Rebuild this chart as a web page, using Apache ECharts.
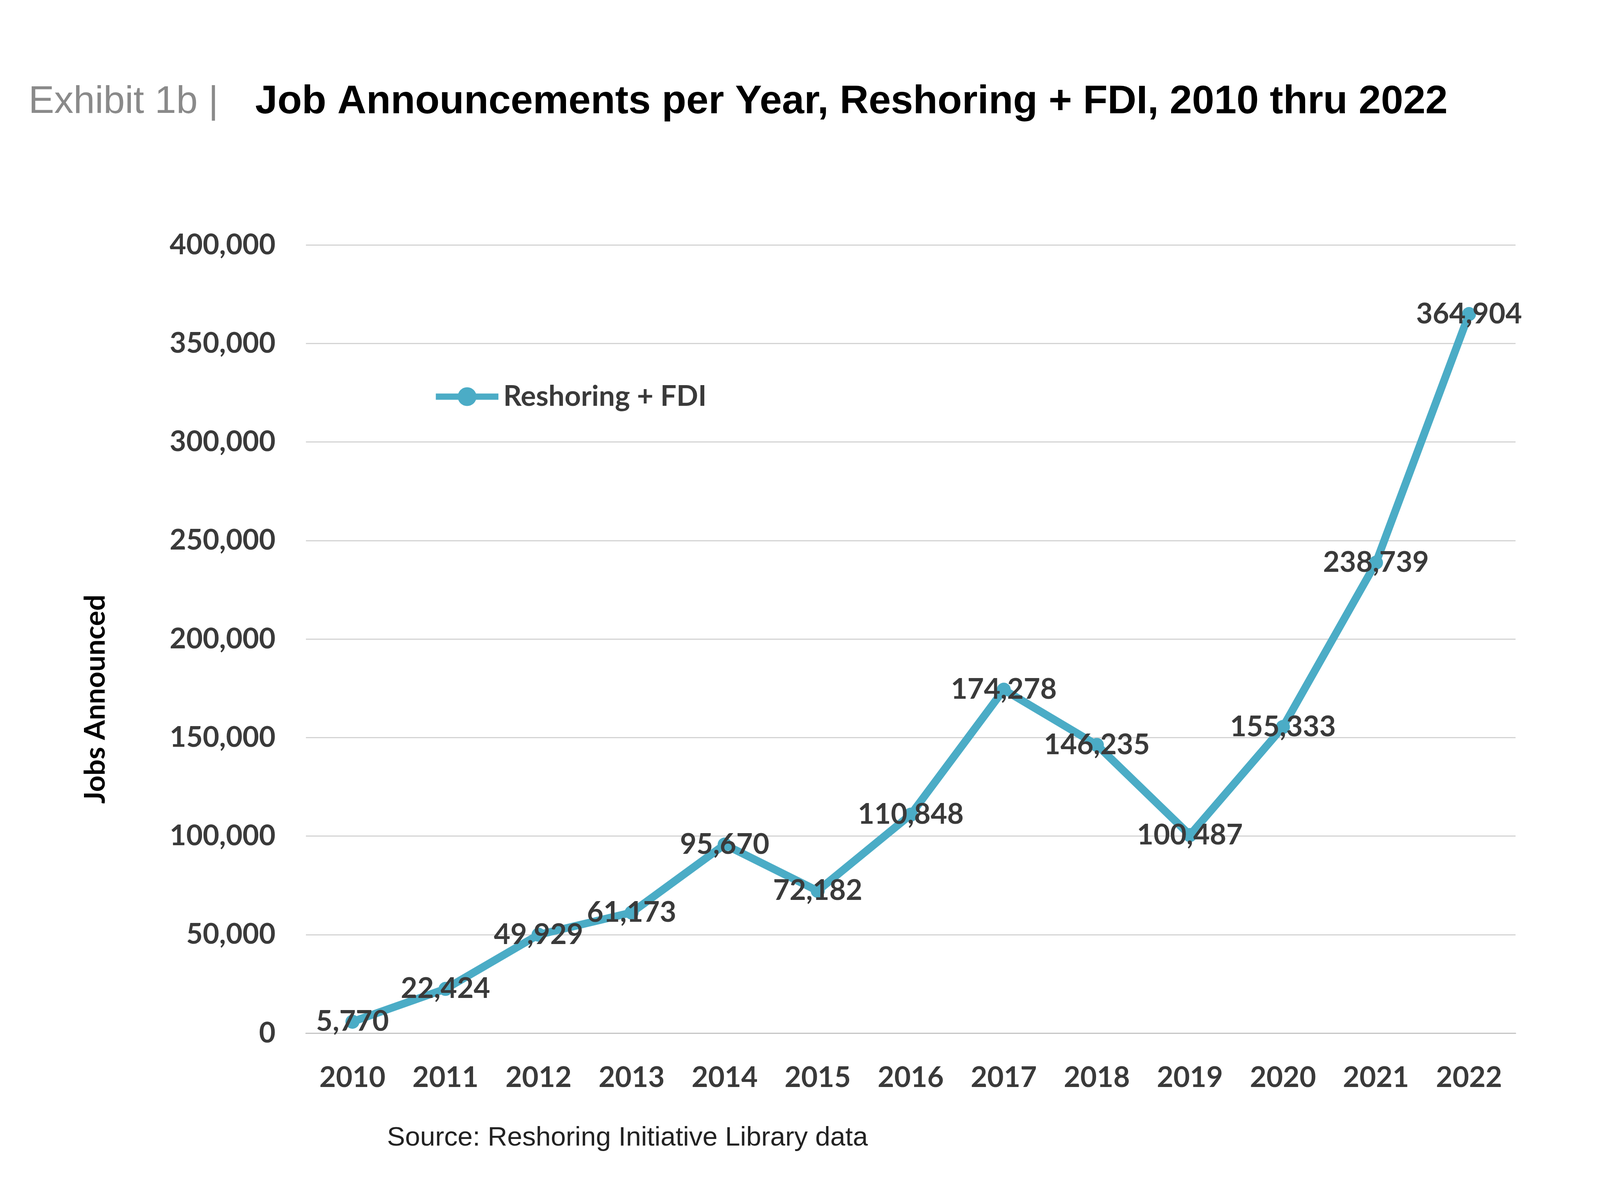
<!DOCTYPE html>
<html>
<head>
<meta charset="utf-8">
<script src="https://cdn.jsdelivr.net/npm/echarts@6/dist/echarts.min.js"></script>
<style>html,body{margin:0;padding:0;background:#fff;overflow:hidden}#chart{width:100vw;height:100vh}</style>
</head>
<body>
<div id="chart"></div>
<script>
const years = ['2010','2011','2012','2013','2014','2015','2016','2017','2018','2019','2020','2021','2022'];
const jobs = [5770, 22424, 49929, 61173, 95670, 72182, 110848, 174278, 146235, 100487, 155333, 238739, 364904];
const seriesName = 'Reshoring + FDI';
const exhibitLabel = 'Exhibit 1b |';
const titleText = 'Job Announcements per Year, Reshoring + FDI, 2010 thru 2022';
const yAxisTitle = 'Jobs Announced';
const sourceText = 'Source: Reshoring Initiative Library data';

const lineColor = '#4BACC6';
const textColor = '#3a3a3a';
const fmt = v => Number(v).toLocaleString('en-US');

// layout designed for a 4320x3080 canvas, scaled to the actual viewport
const W = window.innerWidth || 4320, H = window.innerHeight || 3080;
const sx = W / 4320, sy = H / 3080;
const X = v => v * sx, Y = v => v * sy, F = v => v * sx;

const chart = echarts.init(document.getElementById('chart'));
chart.setOption({
  backgroundColor: '#ffffff',
  animation: false,
  grid: { left: X(826), right: X(228), top: Y(627), bottom: Y(435), containLabel: false },
  legend: {
    left: X(1163), top: Y(974),
    itemWidth: X(169), itemHeight: 60, itemGap: 20,
    data: [seriesName],
    lineStyle: { width: 16 },
    textStyle: { fontFamily: 'Lato', fontWeight: 'bold', fontSize: F(77), color: textColor, padding: [0,0,0,X(8)] }
  },
  xAxis: {
    type: 'category',
    data: years,
    boundaryGap: true,
    axisLine: { show: true, lineStyle: { color: '#c4c4c4', width: 3 } },
    axisTick: { show: false },
    axisLabel: { fontFamily: 'Lato', fontWeight: 'bold', fontSize: F(77), color: textColor, margin: Y(78) }
  },
  yAxis: {
    type: 'value',
    min: 0, max: 400000, interval: 50000,
    axisLine: { show: false },
    axisTick: { show: false },
    splitLine: { lineStyle: { color: '#d4d4d4', width: 3 } },
    axisLabel: { fontFamily: 'Lato', fontWeight: 'bold', fontSize: F(77), color: textColor, margin: X(82), formatter: fmt }
  },
  series: [{
    name: seriesName,
    type: 'line',
    data: jobs,
    symbol: 'circle',
    symbolSize: 36,
    lineStyle: { color: lineColor, width: 20 },
    itemStyle: { color: lineColor },
    label: {
      show: true, position: 'inside',
      fontFamily: 'Lato', fontWeight: 'bold', fontSize: F(77), color: textColor,
      formatter: p => fmt(p.value)
    },
    z: 3
  }],
  graphic: [
    { type: 'text', x: X(77), y: Y(262), style: { text: exhibitLabel, fontFamily: 'Liberation Sans', fontSize: F(104), fontWeight: 'normal', fill: '#8a8a8a', align: 'left', verticalAlign: 'middle' } },
    { type: 'text', x: X(689), y: Y(262), style: { text: titleText, fontFamily: 'Liberation Sans', fontSize: F(108), fontWeight: 'bold', fill: '#000000', align: 'left', verticalAlign: 'middle' } },
    { type: 'text', x: X(258), y: Y(1790), rotation: Math.PI / 2, style: { text: yAxisTitle, fontFamily: 'Lato', fontSize: F(77), fontWeight: 'bold', fill: '#000000', align: 'center', verticalAlign: 'middle' } },
    { type: 'text', x: X(1045), y: Y(2914), style: { text: sourceText, fontFamily: 'Liberation Sans', fontSize: F(73), fontWeight: 'normal', fill: '#222222', align: 'left', verticalAlign: 'middle' } }
  ]
});
window.addEventListener('resize', () => chart.resize());
</script>
</body>
</html>
